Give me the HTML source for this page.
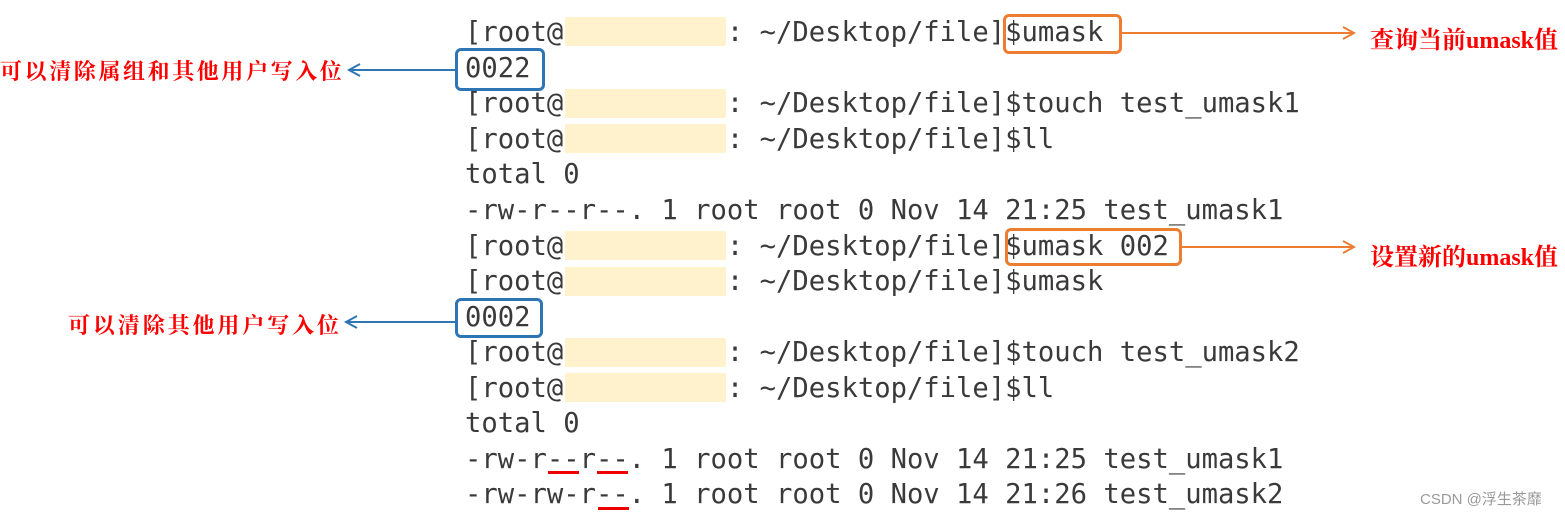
<!DOCTYPE html>
<html><head><meta charset="utf-8"><style>
body{margin:0;width:1565px;height:517px;background:#fff;position:relative;overflow:hidden}
.t{position:absolute;left:465px;font-family:"DejaVu Sans Mono","Liberation Mono",monospace;font-size:27.2px;color:#3a3a3a;white-space:pre;line-height:36px;height:36px}
.bg{position:absolute;left:565px;width:161px;height:29px;background:#fff2cc}
.box{position:absolute;border:3px solid;border-radius:6px;box-sizing:border-box}
.lab{position:absolute;font-family:"Liberation Serif","Noto Serif CJK SC",serif;color:#f00;font-weight:bold;white-space:nowrap}
.ul{position:absolute;height:3px;background:#e00}
</style></head><body>
<div class="bg" style="top:17px"></div>
<div class="bg" style="top:89px"></div>
<div class="bg" style="top:124px"></div>
<div class="bg" style="top:231px"></div>
<div class="bg" style="top:267px"></div>
<div class="bg" style="top:338px"></div>
<div class="bg" style="top:373px"></div>
<div class="t" style="top:15px">[root@          : ~/Desktop/file]$umask</div>
<div class="t" style="top:51px">0022</div>
<div class="t" style="top:86px">[root@          : ~/Desktop/file]$touch test_umask1</div>
<div class="t" style="top:122px">[root@          : ~/Desktop/file]$ll</div>
<div class="t" style="top:157px">total 0</div>
<div class="t" style="top:193px">-rw-r--r--. 1 root root 0 Nov 14 21:25 test_umask1</div>
<div class="t" style="top:229px">[root@          : ~/Desktop/file]$umask 002</div>
<div class="t" style="top:264px">[root@          : ~/Desktop/file]$umask</div>
<div class="t" style="top:300px">0002</div>
<div class="t" style="top:335px">[root@          : ~/Desktop/file]$touch test_umask2</div>
<div class="t" style="top:371px">[root@          : ~/Desktop/file]$ll</div>
<div class="t" style="top:406px">total 0</div>
<div class="t" style="top:442px">-rw-r--r--. 1 root root 0 Nov 14 21:25 test_umask1</div>
<div class="t" style="top:477px">-rw-rw-r--. 1 root root 0 Nov 14 21:26 test_umask2</div>
<div class="ul" style="left:548px;top:471px;width:31px"></div>
<div class="ul" style="left:597px;top:471px;width:31px"></div>
<div class="ul" style="left:598px;top:507px;width:31px"></div>
<div class="box" style="left:1003px;top:14px;width:119px;height:40px;border-color:#ed7d31"></div>
<div class="box" style="left:1005px;top:228px;width:177px;height:38px;border-color:#ed7d31"></div>
<div class="box" style="left:455px;top:48px;width:90px;height:43px;border-color:#2e75b6"></div>
<div class="box" style="left:455px;top:298px;width:88px;height:40px;border-color:#2e75b6"></div>
<svg width="1565" height="517" style="position:absolute;left:0;top:0">
<g fill="none" stroke-width="2">
<path d="M1122 33H1353M1343 27L1354 33L1343 39" stroke="#ed7d31"/>
<path d="M1182 247H1353M1343 241L1354 247L1343 253" stroke="#ed7d31"/>
<path d="M455 70H350M360 64L349 70L360 76" stroke="#2e75b6"/>
<path d="M455 322H347M357 316L346 322L357 328" stroke="#2e75b6"/>
</g></svg>
<div class="lab" style="left:1370px;top:20px;font-size:24px">查询当前umask值</div>
<div class="lab" style="left:1370px;top:237px;font-size:24px">设置新的umask值</div>
<div class="lab" style="left:0px;top:55px;font-size:22px;letter-spacing:2.6px">可以清除属组和其他用户写入位</div>
<div class="lab" style="left:68px;top:309px;font-size:22px;letter-spacing:2.9px">可以清除其他用户写入位</div>
<div style="position:absolute;left:1420px;top:488px;font-family:'Liberation Sans','Noto Sans CJK SC',sans-serif;font-size:15px;color:#999">CSDN @浮生茶靡</div>
</body></html>
